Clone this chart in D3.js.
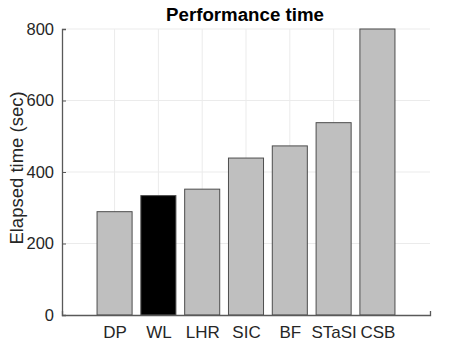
<!DOCTYPE html>
<html><head><meta charset="utf-8">
<script src="https://cdn.jsdelivr.net/npm/d3@7"></script>
<style>body{margin:0;background:#fff}svg{display:block}</style>
</head><body><svg id="c" width="474" height="355"></svg>
<script>
const categories = ["DP","WL","LHR","SIC","BF","STaSI","CSB"];
const values = [289, 334, 352, 439, 473, 538, 800];
const fills = ["#bfbfbf","#000000","#bfbfbf","#bfbfbf","#bfbfbf","#bfbfbf","#bfbfbf"];
const yTicks = [0, 200, 400, 600, 800];

const svg = d3.select("#c");
const font = "'Liberation Sans', Arial, sans-serif";
const x = d3.scaleLinear().domain([-0.2, 8.2]).range([62, 430]);
const y = d3.scaleLinear().domain([0, 800]).range([315, 29]);
const bw = (x(1) - x(0)) * 0.8;

// grid
svg.append("g").selectAll("line.v").data(categories).join("line")
  .attr("x1", (d,i)=>x(i+1)).attr("x2",(d,i)=>x(i+1))
  .attr("y1", y(0)).attr("y2", y(800))
  .attr("stroke", "#ebebeb").attr("stroke-width", 1);
svg.append("g").selectAll("line.h").data(yTicks.slice(1)).join("line")
  .attr("x1", x(-0.2)).attr("x2", x(8.2))
  .attr("y1", d=>y(d)).attr("y2", d=>y(d))
  .attr("stroke", "#ebebeb").attr("stroke-width", 1);

// bars
svg.append("g").selectAll("rect").data(values).join("rect")
  .attr("x", (d,i)=>x(i+1)-bw/2).attr("width", bw)
  .attr("y", d=>y(d)).attr("height", d=>y(0)-y(d))
  .attr("fill", (d,i)=>fills[i])
  .attr("stroke", "#4d4d4d").attr("stroke-width", 1);

// axes
const yAxis = d3.axisLeft(y).tickValues(yTicks).tickSize(-4).tickPadding(8);
const gy = svg.append("g").attr("transform", `translate(${x(-0.2)},0)`).call(yAxis);
const xAxis = d3.axisBottom(x).tickValues(d3.range(1, 8)).tickFormat((d)=>categories[d-1]).tickSize(-4).tickPadding(11);
const gx = svg.append("g").attr("transform", `translate(0,${y(0)})`).call(xAxis);
[gx, gy].forEach(g => {
  g.select(".domain").attr("stroke", "#595959").attr("stroke-width", 1.3);
  g.selectAll(".tick line").attr("stroke", "#595959");
  g.selectAll("text").attr("font-family", font).attr("fill", "#262626");
});
gy.selectAll("text").attr("font-size", 16.5);
gx.selectAll("text").attr("font-size", 17);
gx.selectAll(".tick line").remove();

// title
svg.append("text").attr("x", 245).attr("y", 21).attr("text-anchor", "middle")
  .attr("font-family", font).attr("font-weight", "bold").attr("font-size", 18.7)
  .attr("fill", "#000").text("Performance time");

// y label
svg.append("text").attr("transform", "translate(23,168) rotate(-90)")
  .attr("text-anchor", "middle").attr("font-family", font).attr("font-size", 18.5)
  .attr("fill", "#262626").text("Elapsed time (sec)");
</script></body></html>
